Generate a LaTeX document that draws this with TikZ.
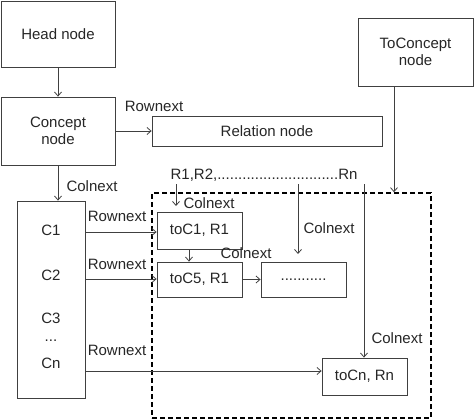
\documentclass[tikz,border=0pt]{standalone}
\usepackage{fontspec}
\setmainfont{Liberation Sans}
\usetikzlibrary{arrows.meta}
\begin{document}
\begin{tikzpicture}[x=1pt,y=-1pt,
  every node/.style={font=\fontsize{15}{17}\selectfont, text=black!85},
  box/.style={draw=black!75, line width=0.8pt, inner sep=0pt, align=center},
  lab/.style={inner sep=0pt},
  conn/.style={draw=black!75, line width=0.8pt, -{Straight Barb[length=4pt,width=7pt]}},
  dbox/.style={draw=black, line width=1.6pt, dash pattern=on 5pt off 3pt, inner sep=0pt}]
\useasboundingbox (0,0) rectangle (474,420);
% main boxes
\node[box, minimum width=114pt, minimum height=66pt] (head) at (58,34) {Head node};
\node[box, minimum width=114pt, minimum height=68pt] (concept) at (58,131) {Concept\\node};
\node[box, minimum width=230pt, minimum height=30pt] (relation) at (267,131) {Relation node};
\node[box, minimum width=115pt, minimum height=68pt] (tocon) at (415.5,52) {ToConcept\\node};
\node[box, minimum width=68pt, minimum height=197pt] (clist) at (51,299.5) {};
\node[lab] (c1) at (51,230) {C1};
\node[lab] (c2) at (51,275) {C2};
\node[lab] (c3) at (51,318) {C3};
\node[lab] (cdots) at (51,341) {...};
\node[lab] (cn) at (51,363) {Cn};
% dashed region
\node[dbox, minimum width=279pt, minimum height=225pt] (region) at (291.5,305.5) {};
\node[box, minimum width=85pt, minimum height=37pt] (toc1) at (199.5,230.5) {toC1, R1};
\node[box, minimum width=85pt, minimum height=35pt] (toc5) at (199.5,279.5) {toC5, R1};
\node[box, minimum width=85pt, minimum height=35pt] (dots) at (303.5,279.5) {...........};
\node[box, minimum width=85pt, minimum height=37pt] (tocn) at (364.5,376.5) {toCn, Rn};
\node[lab] (rlab) at (264,175) {R1,R2,.............................Rn};
% labels
\node[lab] (lrow0) at (154,106) {Rownext};
\node[lab] (lcol0) at (92,186) {Colnext};
\node[lab] (lrow1) at (117,216) {Rownext};
\node[lab] (lrow2) at (117,264) {Rownext};
\node[lab] (lrow3) at (117,350) {Rownext};
\node[lab] (lcol1) at (209,203) {Colnext};
\node[lab] (lcol2) at (246,253) {Colnext};
\node[lab] (lcol3) at (329,228) {Colnext};
\node[lab] (lcol4) at (397,338) {Colnext};
% coordinates
\coordinate (r1s) at (176,184);
\coordinate (r1e) at (176,206);
\coordinate (r2s) at (298,184);
\coordinate (r2e) at (298,254);
\coordinate (r3s) at (364,184);
% connectors
\draw[conn] (head.south) -- (concept.north);
\draw[conn] (concept.east) -- (relation.west);
\draw[conn] (concept.south) -- (concept.south |- clist.north);
\draw[conn] (clist.east |- 0,232) -- (toc1.west |- 0,232);
\draw[conn] (clist.east |- 0,279) -- (toc5.west |- 0,279);
\draw[conn] (clist.east |- 0,371) -- (tocn.west |- 0,371);
\draw[conn] (tocon.south -| 394,0) -- (region.north -| 394,0);
\draw[conn] (r1s) -- (r1e);
\draw[conn] (r2s) -- (r2e);
\draw[conn] (r3s) -- (r3s |- tocn.north);
\draw[conn] (toc1.south -| 189,0) -- (toc5.north -| 189,0);
\draw[conn] (toc5.east) -- (dots.west);
\end{tikzpicture}
\end{document}
